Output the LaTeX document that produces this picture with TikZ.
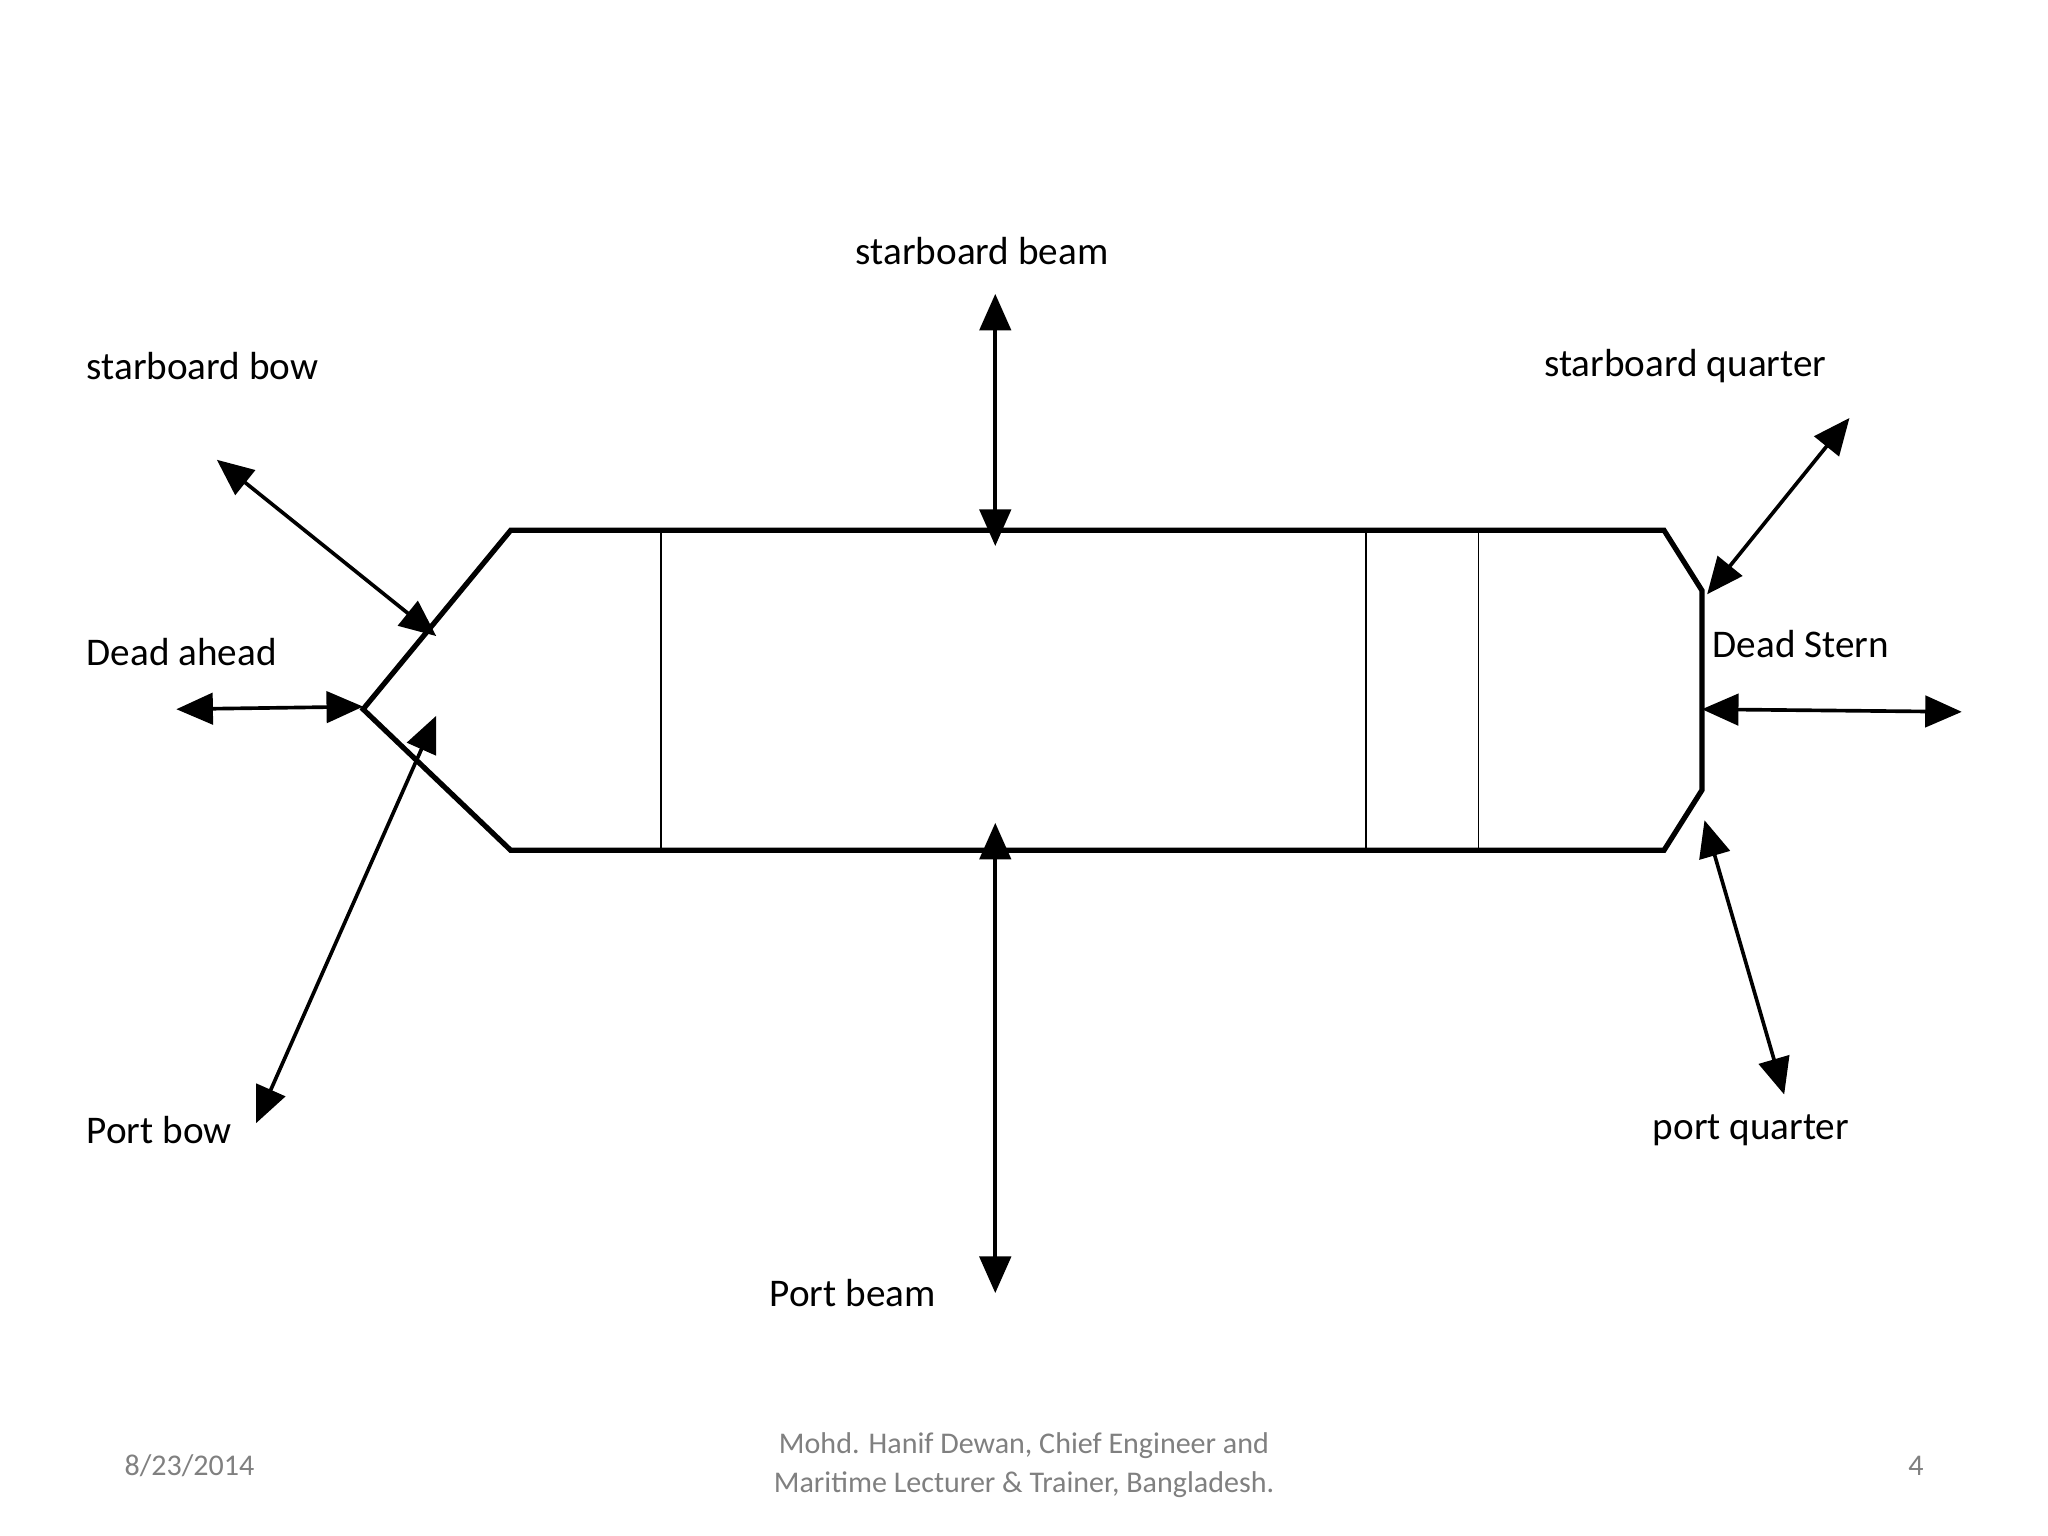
\documentclass[tikz,border=0pt]{standalone}
\usepackage{fontspec}
\setmainfont{Carlito}
\usetikzlibrary{arrows.meta}
\begin{document}
\begin{tikzpicture}[x=0.5pt,y=-0.5pt,
  hull/.style={line width=2pt,line join=miter},
  thin/.style={line width=0.6pt},
  dir/.style={line width=1.4pt,{Triangle[length=14pt,width=12pt]}-{Triangle[length=14pt,width=12pt]}},
  lbl/.style={font=\fontsize{15}{18}\selectfont,inner sep=0pt},
  foot/.style={font=\fontsize{11.5}{15}\selectfont,text=black!50,inner sep=0pt,align=center}]
\useasboundingbox (0,0) rectangle (1568,1176);
\fill[white] (0,0) rectangle (1568,1176);
\coordinate (bow) at (278,543);
\coordinate (stern) at (1303,543);
\draw[hull] (bow) -- (391,406) -- (1274,406) -- (1303,452) -- (1303,605) -- (1274,651) -- (391,651) -- cycle;
\foreach \x in {506,1046,1132} \draw[thin] (\x,406) -- (\x,651);
% arrow end coordinates
\coordinate (sbA) at (762,225); \coordinate (sbB) at (762,418);
\coordinate (pbA) at (762,630); \coordinate (pbB) at (762,990);
\coordinate (sbowA) at (166,352); \coordinate (sbowB) at (334,487);
\coordinate (daA) at (135,543); \coordinate (daB) at (278,541);
\coordinate (pbowA) at (334,548); \coordinate (pbowB) at (196,860);
\coordinate (sqA) at (1416,320); \coordinate (sqB) at (1307,455);
\coordinate (dsA) at (1303,543); \coordinate (dsB) at (1502,545);
\coordinate (pqA) at (1305,628); \coordinate (pqB) at (1366,838);
\draw[dir] (sbA) -- (sbB);
\draw[dir] (pbA) -- (pbB);
\draw[dir] (sbowA) -- (sbowB);
\draw[dir] (daA) -- (daB);
\draw[dir] (pbowA) -- (pbowB);
\draw[dir] (sqA) -- (sqB);
\draw[dir] (dsA) -- (dsB);
\draw[dir] (pqA) -- (pqB);
\node[lbl] (t1) at (752,192) {starboard beam};
\node[lbl,anchor=west] (t2) at (66,280) {starboard bow};
\node[lbl,anchor=west] (t3) at (1182,280) {starboard quarter};
\node[lbl,anchor=west] (t4) at (66,499) {Dead ahead};
\node[lbl,anchor=west] (t5) at (1311,493) {Dead Stern};
\node[lbl,anchor=west] (t6) at (66,865) {Port bow};
\node[lbl,anchor=west] (t7) at (1265,865) {port quarter};
\node[lbl,anchor=west] (t8) at (589,990) {Port beam};
\node[foot,anchor=west] (f1) at (95,1122) {8/23/2014};
\node[foot] (f2) at (784,1122) {Mohd. Hanif Dewan, Chief Engineer and\\Maritime Lecturer \& Trainer, Bangladesh.};
\node[foot] (f3) at (1467,1122) {4};
\end{tikzpicture}
\end{document}
